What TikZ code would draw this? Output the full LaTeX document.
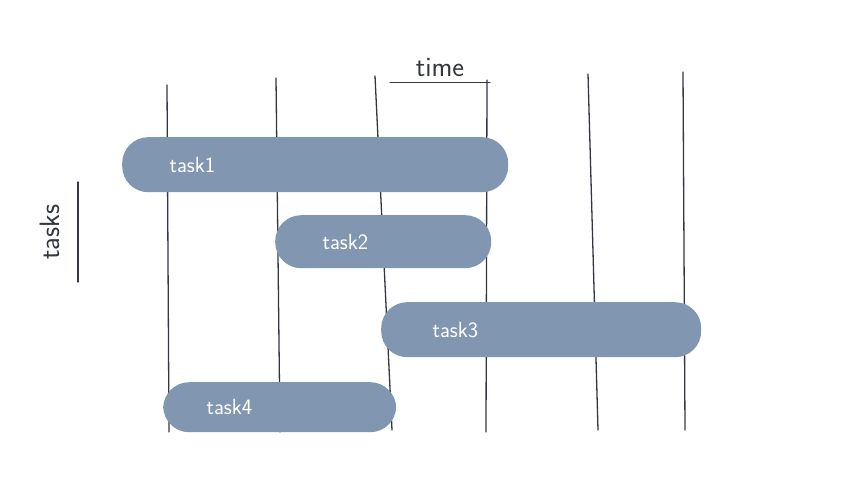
\documentclass[tikz,border=0pt]{standalone}
\usetikzlibrary{positioning}
\definecolor{barblue}{HTML}{8196B0}
\definecolor{pen}{HTML}{333840}
\tikzset{
  gridline/.style={draw=pen, line width=1.3pt, line cap=round},
  taskbar/.style={fill=barblue, rounded corners=26pt, inner sep=0pt, anchor=north west},
  tasklabel/.style={text=white, font=\sffamily\fontsize{22}{0}\selectfont, anchor=west},
  axislabel/.style={text=pen, font=\sffamily\fontsize{28}{0}\selectfont}
}
\begin{document}
\begin{tikzpicture}[x=1pt,y=-1pt]
\useasboundingbox (0,0) rectangle (850,500);
% time columns
\foreach \xa/\ya/\xb/\yb in {167/85/169/432, 276/78/280/432, 375/76/392/430,
                             487/80/486/432, 588/74/598/430, 683/72/685/430}
  \draw[gridline] (\xa,\ya) -- (\xb,\yb);
% bars
\node[taskbar, minimum width=386pt, minimum height=55pt] (t1) at (122,137) {};
\node[taskbar, minimum width=216pt, minimum height=53pt] (t2) at (275,215) {};
\node[taskbar, minimum width=320pt, minimum height=55pt] (t3) at (381,302) {};
\node[taskbar, minimum width=233pt, minimum height=50pt] (t4) at (163,382) {};
\node[tasklabel] at ([xshift=44pt]t1.west) {task1};
\node[tasklabel] at ([xshift=44pt]t2.west) {task2};
\node[tasklabel] at ([xshift=48pt]t3.west) {task3};
\node[tasklabel] at ([xshift=40pt]t4.west) {task4};
% axes
\node[axislabel] (time) at (440,68) {time};
\draw[gridline] ([xshift=-50pt,yshift=-2pt]time.south) -- ([xshift=50pt,yshift=-2pt]time.south);
\node[axislabel, rotate=90] (tasks) at (50,232) {tasks};
\draw[gridline] ([xshift=28pt]tasks.center) ++(0,-50) -- ++(0,100);
\end{tikzpicture}
\end{document}
